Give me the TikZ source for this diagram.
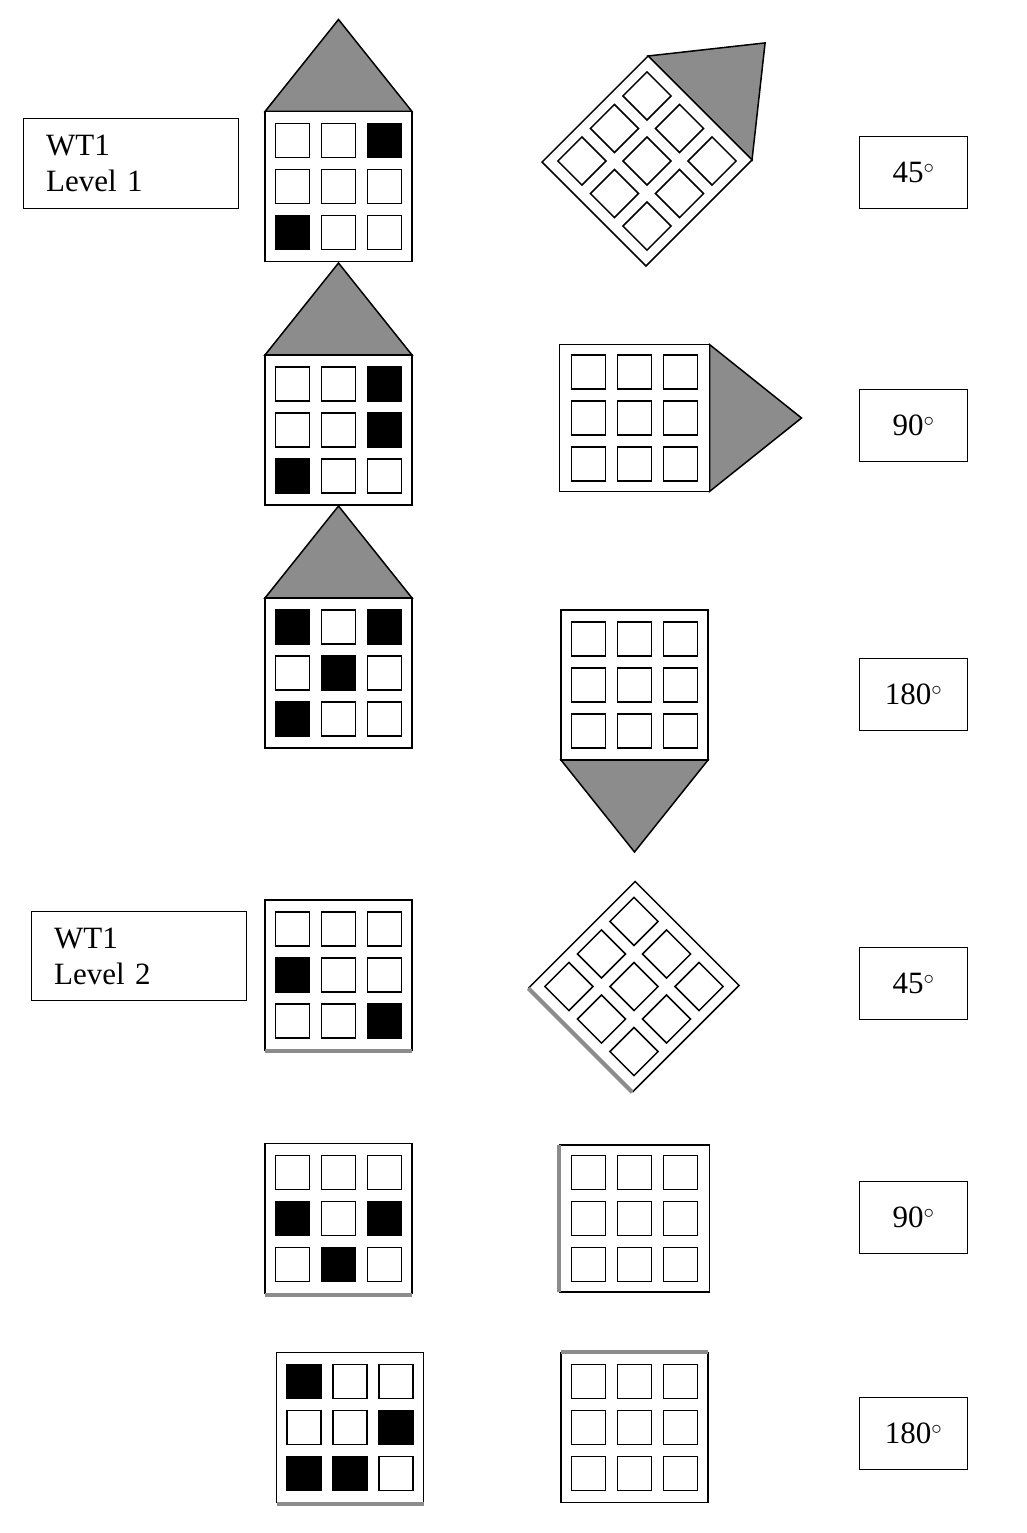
\documentclass[tikz,border=0pt]{standalone}
\usepackage{fontspec}
\setmainfont{Liberation Serif}
\definecolor{roofgray}{HTML}{8C8C8C}
\newcommand\hbody{\draw[line width=1.5pt,fill=white] (-73.5,-75) rectangle (73.5,75);
 \foreach \c in {-46,0,46}{\foreach \r in {-46,0,46}{\draw[line width=1.5pt] (\c-17,\r-17) rectangle ++(34,34);}}}
\newcommand\hblack[1]{\foreach \c/\r in {#1}{\fill[black] ({(\c-1)*46-17},{(1-\r)*46-17}) rectangle ++(34,34);}}
\newcommand\hroof{\filldraw[line width=1.5pt,fill=roofgray] (-73.5,75)--(0,167)--(73.5,75)--cycle;}
\newcommand\hbase{\draw[roofgray,line width=4pt] (-73.5,-76) -- (73.5,-76);}
\tikzset{lbl/.style={draw,line width=1.2pt,font=\fontsize{31}{36}\selectfont,align=left,anchor=north west,inner sep=0pt},
ang/.style={draw,line width=1.2pt,font=\fontsize{31}{36}\selectfont,minimum width=108pt,minimum height=72pt,inner sep=0pt,anchor=north west}}
\begin{document}
\begin{tikzpicture}[x=1pt,y=1pt]
\useasboundingbox[fill=white] (0,0) rectangle (1026,-1533);
% level 1 left
\begin{scope}[shift={(338.5,-186.5)}]\hroof\hbody\hblack{2/0,0/2}\end{scope}
\begin{scope}[shift={(338.5,-430)}]\hroof\hbody\hblack{2/0,2/1,0/2}\end{scope}
\begin{scope}[shift={(338.5,-673)}]\hroof\hbody\hblack{0/0,2/0,1/1,0/2}\end{scope}
% level 1 right
\begin{scope}[shift={(647,-161)},rotate=-45]\hroof\hbody\end{scope}
\begin{scope}[shift={(634.5,-418)},rotate=-90]\hroof\hbody\end{scope}
\begin{scope}[shift={(634.5,-685)},rotate=180]\hroof\hbody\end{scope}
% level 2 left
\begin{scope}[shift={(338.5,-975)}]\hbody\hbase\hblack{0/1,2/2}\end{scope}
\begin{scope}[shift={(338.5,-1218.5)}]\hbody\hbase\hblack{0/1,2/1,1/2}\end{scope}
\begin{scope}[shift={(350,-1427.5)}]\hbody\hbase\hblack{0/0,2/1,0/2,1/2}\end{scope}
% level 2 right
\begin{scope}[shift={(634,-986.5)},rotate=-45]\hbody\hbase\end{scope}
\begin{scope}[shift={(634.5,-1218.5)},rotate=-90]\hbody\hbase\end{scope}
\begin{scope}[shift={(634.5,-1427.5)},rotate=180]\hbody\hbase\end{scope}
% labels
\node[lbl,minimum width=215pt,minimum height=90pt,text width=200pt] (l1) at (23,-118) {\hspace*{15pt}WT1\\\hspace*{15pt}Level 1};
\node[lbl,minimum width=215pt,minimum height=89pt,text width=200pt] (l2) at (31,-911) {\hspace*{15pt}WT1\\\hspace*{15pt}Level 2};
\node[ang] (a1) at (859,-136) {45$^\circ$};
\node[ang] (a2) at (859,-389) {90$^\circ$};
\node[ang] (a3) at (859,-658) {180$^\circ$};
\node[ang] (a4) at (859,-947) {45$^\circ$};
\node[ang] (a5) at (859,-1181) {90$^\circ$};
\node[ang] (a6) at (859,-1397) {180$^\circ$};
\end{tikzpicture}
\end{document}
